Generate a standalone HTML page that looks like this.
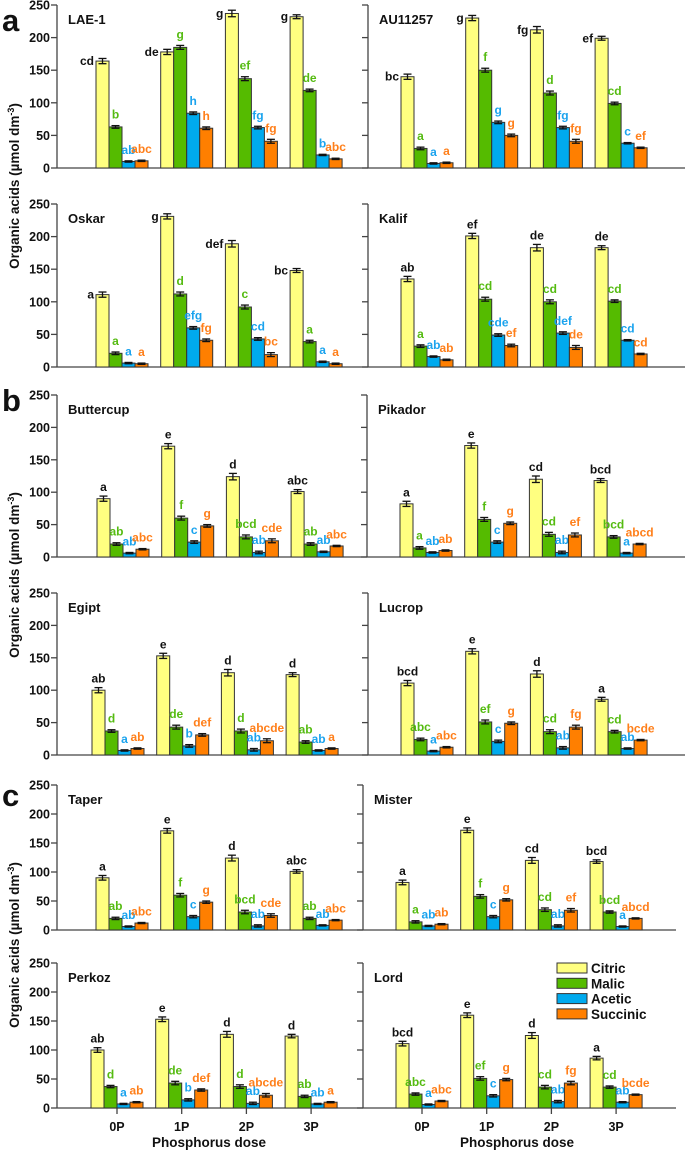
<!DOCTYPE html>
<html><head><meta charset="utf-8"><style>
body{margin:0;background:#fff}
svg{display:block;font-family:"Liberation Sans",Arial,sans-serif;font-weight:bold}
</style></head><body>
<svg id="chart" width="685" height="1153" viewBox="0 0 685 1153" xmlns="http://www.w3.org/2000/svg"></svg>
<script>
const categories = ["0P","1P","2P","3P"];
const acids = ["Citric","Malic","Acetic","Succinic"];
const yTicks = [0,50,100,150,200,250];
const cultivars = ["LAE-1","AU11257","Oskar","Kalif","Buttercup","Pikador","Egipt","Lucrop","Taper","Mister","Perkoz","Lord"];
// values[cultivar][dose] = [citric, malic, acetic, succinic]
const valsLAE1 = [[164,63,10,11],[178,185,84,61],[237,137,62,41],[232,119,20,14]];
const valsAU = [[140,30,7,8],[230,150,70,50],[212,115,62,41],[199,99,38,31]];
const valsOskar = [[111,21,6,5],[231,112,60,41],[189,92,43,19],[148,39,8,5]];
const valsKalif = [[135,32,16,11],[201,104,49,33],[183,100,52,30],[183,101,41,20]];
const valsButtercup = [[90,20,6,12],[171,60,23,48],[124,31,7,25],[101,20,8,17]];
const valsPikador = [[82,14,7,10],[172,58,23,52],[120,35,7,34],[118,31,6,20]];
const valsEgipt = [[100,37,7,10],[153,43,14,31],[127,37,8,22],[124,20,7,10]];
const valsLucrop = [[111,24,6,12],[160,51,21,49],[125,36,11,43],[86,36,10,23]];
const valsTaper = [[90,20,6,12],[171,60,23,48],[124,31,7,25],[101,20,8,17]];
const valsMister = [[82,14,7,10],[172,58,23,52],[120,35,7,34],[118,31,6,20]];
const valsPerkoz = [[100,37,7,10],[153,43,14,31],[127,37,8,22],[124,20,7,10]];
const valsLord = [[111,24,6,12],[160,51,21,49],[125,36,11,43],[86,36,10,23]];
const errs = [[4,2,1,1],[4,3,2,2],[5,3,2,3],[3,2,1,1]];
const lblLAE1 = [["cd","b","ab","abc"],["de","g","h","h"],["g","ef","fg","fg"],["g","de","b","abc"]];
const lblAU = [["bc","a","a","a"],["g","f","g","g"],["fg","d","fg","fg"],["ef","cd","c","ef"]];
const lblOskar = [["a","a","a","a"],["g","d","efg","fg"],["def","c","cd","bc"],["bc","a","a","a"]];
const lblKalif = [["ab","a","ab","ab"],["ef","cd","cde","ef"],["de","cd","def","de"],["de","cd","cd","cd"]];
const lblButtercup = [["a","ab","ab","abc"],["e","f","c","g"],["d","bcd","ab","cde"],["abc","ab","ab","abc"]];
const lblPikador = [["a","a","ab","ab"],["e","f","c","g"],["cd","cd","ab","ef"],["bcd","bcd","a","abcd"]];
const lblEgipt = [["ab","d","a","ab"],["e","de","b","def"],["d","d","ab","abcde"],["d","ab","ab","a"]];
const lblLucrop = [["bcd","abc","a","abc"],["e","ef","c","g"],["d","cd","ab","fg"],["a","cd","ab","bcde"]];
const allVals = [valsLAE1,valsAU,valsOskar,valsKalif,valsButtercup,valsPikador,valsEgipt,valsLucrop,valsTaper,valsMister,valsPerkoz,valsLord];
const allLbls = [lblLAE1,lblAU,lblOskar,lblKalif,lblButtercup,lblPikador,lblEgipt,lblLucrop,lblButtercup,lblPikador,lblEgipt,lblLucrop];

const fills = ["#ffff80","#55bb00","#00aaee","#ff7f00"];
const txtCol = ["#111","#55bb11","#1aa3ee","#ff7f1a"];
const rowTop = [5,204,395,593,785,963];
const rowZero = [168,367,557,755,930,1108];
const leftAxis = [57,57,57,57,57,57];
const rightAxis = [368,368,367,368,363,363];
const leftC0 = [122,122,123,118,122,117];
const citricLeft = [true,true,true,false,false,false,false,false,false,false,false,false];

const svg = document.getElementById('chart');
const NS = 'http://www.w3.org/2000/svg';
function mk(tag, attrs, parent){const e=document.createElementNS(NS,tag);for(const k in attrs)e.setAttribute(k,attrs[k]);(parent||svg).appendChild(e);return e;}

for(let p=0;p<12;p++){
  const row=Math.floor(p/2), col=p%2;
  const g=mk('g',{});
  
  
  const ax = col===0?leftAxis[row]:rightAxis[row];
  const xEnd = col===0?rightAxis[row]:(row<4?685:676);
  const c0 = col===0?leftC0[row]:rightAxis[row]+59;
  const top=rowTop[row], zero=rowZero[row];
  const y = v => zero - v*(zero-top)/250;
  const x = i => c0 + i*64.7;
  // axes
  const ya=mk('line',{x1:ax,y1:top,x2:ax,y2:zero,stroke:'#444','stroke-width':1.3},g);
  
  
  const xa=mk('line',{x1:ax,y1:zero,x2:xEnd,y2:zero,stroke:'#444','stroke-width':1.3},g);
  
  
  yTicks.forEach(t=>{
    mk('line',{x1:ax-6,y1:y(t),x2:ax,y2:y(t),stroke:'#444','stroke-width':1.3},g);
    if(col===0){
      const tl=mk('text',{x:ax-7,y:y(t)+4.5,'text-anchor':'end','font-size':12.5,fill:'#111'},g);
      tl.textContent=t;
      
      
    }
  });
  const nm=mk('text',{x:ax+11,y:top+19,'font-size':13,fill:'#111'},g);
  nm.textContent=cultivars[p];
  
  
  const vals=allVals[p], lbls=allLbls[p];
  categories.forEach((cat,i)=>{
    if(row===5){
      mk('line',{x1:x(i),y1:zero,x2:x(i),y2:zero+6,stroke:'#444','stroke-width':1.3},g);
      const cl=mk('text',{x:x(i),y:zero+23,'text-anchor':'middle','font-size':12.5,fill:'#111'},g);
      cl.textContent=cat;
      
      
    }
    acids.forEach((a,j)=>{
      const v=vals[i][j], e=errs[i][j];
      const bx=x(i)-26+j*13;
      const r=mk('rect',{x:bx,y:y(v),width:13,height:zero-y(v),fill:fills[j],stroke:'#333','stroke-width':1},g);
      
      
      const cx=bx+6.5;
      mk('line',{x1:cx,y1:y(v+e),x2:cx,y2:y(v-e),stroke:'#111','stroke-width':1.3},g);
      mk('line',{x1:cx-4,y1:y(v+e),x2:cx+4,y2:y(v+e),stroke:'#111','stroke-width':1.3},g);
      mk('line',{x1:cx-4,y1:y(v-e),x2:cx+4,y2:y(v-e),stroke:'#111','stroke-width':1.3},g);
      let lx=cx, ly=y(v+e)-5, anchor='middle';
      if(j===0 && citricLeft[p]){lx=bx-2; ly=y(v)+4; anchor='end';}
      if(j>0) ly=y(v+e)-7;
      const lt=mk('text',{x:lx,y:ly,'text-anchor':anchor,'font-size':12,fill:txtCol[j]},g);
      lt.textContent=lbls[i][j];
      
      
    });
  });
}
// section letters
[["a",31],["b",411],["c",806]].forEach(([s,yy])=>{
  const t=mk('text',{x:2,y:yy,'font-size':31,fill:'#111'});
  t.textContent=s;
  
  
});
// y titles
[186,575,945].forEach(cy=>{
  const t=mk('text',{x:0,y:0,'font-size':13.5,fill:'#111','text-anchor':'middle',transform:`translate(19,${cy}) rotate(-90)`});
  t.innerHTML='Organic acids (µmol dm<tspan dy="-5" font-size="9">-3</tspan><tspan dy="5">)</tspan>';
  
  
});
// x titles
[209,517].forEach(cx=>{
  const t=mk('text',{x:cx,y:1147,'font-size':13.5,fill:'#111','text-anchor':'middle'});
  t.textContent='Phosphorus dose';
  
  
});
// legend
const lg=mk('g',{});


acids.forEach((a,j)=>{
  const yy=963+j*15.3;
  mk('rect',{x:557,y:yy,width:30,height:10,fill:fills[j],stroke:'#333','stroke-width':1},lg);
  const t=mk('text',{x:591,y:yy+10,'font-size':13.5,fill:'#111'},lg);
  t.textContent=a;
  
  
});
</script>
</body></html>
